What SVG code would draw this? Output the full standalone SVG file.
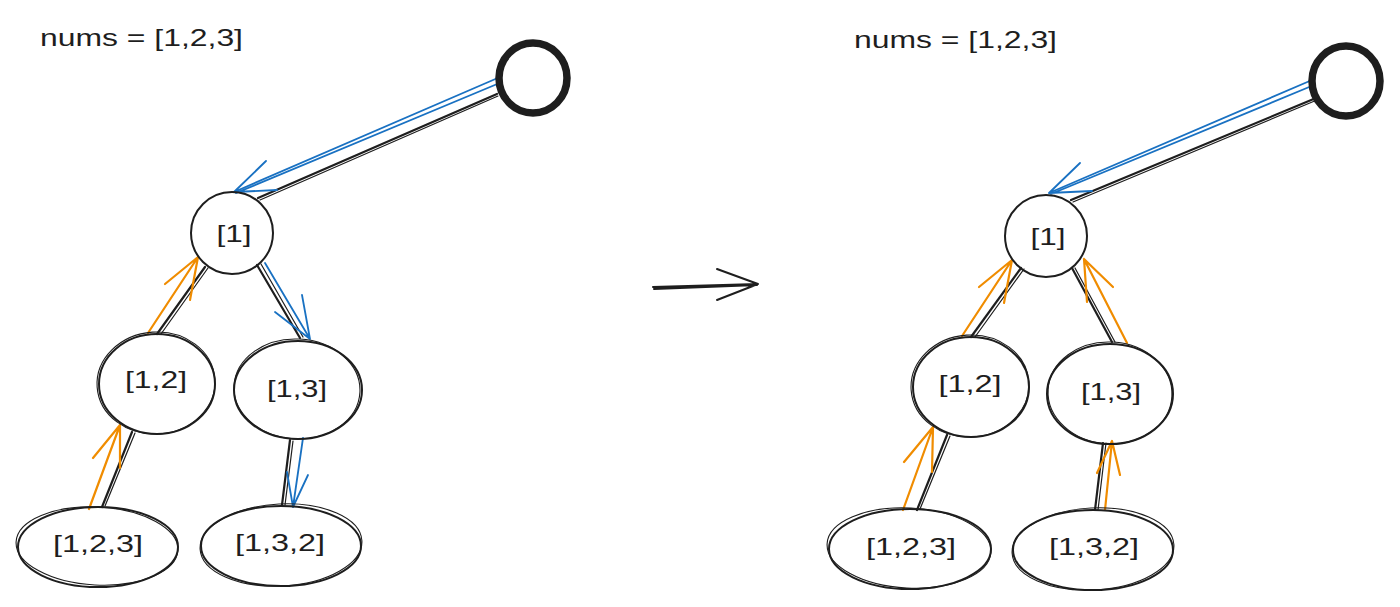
<svg xmlns="http://www.w3.org/2000/svg" width="1400" height="607" viewBox="0 0 1400 607">
<style>
.bg{fill:#ffffff}
.n{fill:none;stroke:#1e1e1e;stroke-width:2}
.n2{fill:none;stroke:#1e1e1e;stroke-width:1.1}
.root{fill:none;stroke:#1e1e1e;stroke-width:7.5}
.lbl{font-family:"Liberation Sans",Arial,sans-serif;font-size:24px;fill:#1e1e1e;text-anchor:middle}
.title{font-family:"Liberation Sans",Arial,sans-serif;font-size:24px;fill:#1e1e1e}
.e{fill:none;stroke:#1e1e1e;stroke-width:2.2;stroke-linecap:round}
.e2{fill:none;stroke:#1e1e1e;stroke-width:1.2;stroke-linecap:round}
.b{fill:none;stroke:#1971c2;stroke-width:1.8;stroke-linecap:round;stroke-linejoin:round}
.o{fill:none;stroke:#f08c00;stroke-width:2.2;stroke-linecap:round;stroke-linejoin:round}
.k{fill:none;stroke:#1e1e1e;stroke-width:2;stroke-linecap:round;stroke-linejoin:round}
</style>
<rect class="bg" x="0" y="0" width="1400" height="607"/>

<text class="title" x="40" y="46" textLength="203" lengthAdjust="spacingAndGlyphs">nums = [1,2,3]</text>
<text class="title" x="854" y="48" textLength="203" lengthAdjust="spacingAndGlyphs">nums = [1,2,3]</text>

<g id="connectors">
  <path class="e" d="M497,94 L258,198"/>
  <path class="e2" d="M498,96 L260,200"/>
  <path class="e" d="M257,265 L300,338"/>
  <path class="e2" d="M261,264 L303,337"/>
  <path class="e" d="M157,334 L205,267"/>
  <path class="e2" d="M161,334 L208,268"/>
  <path class="e" d="M102,507 L132,432"/>
  <path class="e2" d="M105,506 L135,433"/>
  <path class="e" d="M290,440 L282,505"/>
  <path class="e2" d="M293,441 L285,505"/>

  <path class="b" d="M500,77 L234,192 M502,82 L236,193 M266,161 L234,192 L277,190"/>
  <path class="b" d="M265,263 L310,339 M275,312 L310,339 L302,295"/>
  <path class="o" d="M148,333 L198,257 M165,284 L198,257 L190,300"/>
  <path class="o" d="M89,509 L120,425 M93,458 L120,425 L120,468"/>
  <path class="b" d="M303,438 L293,507 M287,472 L293,507 L308,475"/>

  <path class="e" d="M1316,98 L1071,200"/>
  <path class="e2" d="M1317,100 L1073,202"/>
  <path class="e" d="M971,337 L1021,268"/>
  <path class="e2" d="M975,337 L1024,269"/>
  <path class="e" d="M1072,268 L1112,342"/>
  <path class="e2" d="M1075,268 L1115,342"/>
  <path class="e" d="M917,510 L947,435"/>
  <path class="e2" d="M920,509 L950,436"/>
  <path class="e" d="M1095,510 L1103,443"/>
  <path class="e2" d="M1098,510 L1106,443"/>

  <path class="b" d="M1312,80 L1049,193 M1314,85 L1051,194 M1080,163 L1049,193 L1092,191"/>
  <path class="o" d="M962,336 L1012,260 M979,287 L1012,260 L1004,303"/>
  <path class="o" d="M1127,343 L1084,259 M1113,287 L1084,259 L1087,302"/>
  <path class="o" d="M903,510 L933,427 M904,462 L933,427 L932,472"/>
  <path class="o" d="M1105,510 L1112,441 M1097,473 L1112,441 L1120,475"/>

  <path class="k" d="M653,287 L758,284 M654,289 L757,285 M717,269 L758,284 L717,300"/>
</g>

<g id="L-root"><ellipse class="root" cx="533" cy="78" rx="34" ry="35"/></g>
<g id="L-1">
  <ellipse class="n" cx="232" cy="233" rx="41" ry="41"/>
  <text class="lbl" x="234" y="242" textLength="35" lengthAdjust="spacingAndGlyphs">[1]</text>
</g>
<g id="L-12">
  <ellipse class="n" cx="157" cy="384" rx="58" ry="50"/>
  <ellipse class="n2" cx="156" cy="383" rx="59" ry="51" transform="rotate(-4 156 383)"/>
  <text class="lbl" x="156" y="388" textLength="62" lengthAdjust="spacingAndGlyphs">[1,2]</text>
</g>
<g id="L-13">
  <ellipse class="n" cx="298" cy="390" rx="64" ry="49"/>
  <ellipse class="n2" cx="297" cy="389" rx="63" ry="50" transform="rotate(3 297 389)"/>
  <text class="lbl" x="297" y="397" textLength="60" lengthAdjust="spacingAndGlyphs">[1,3]</text>
</g>
<g id="L-123">
  <ellipse class="n" cx="98" cy="547" rx="80" ry="40"/>
  <ellipse class="n2" cx="97" cy="546" rx="81" ry="39" transform="rotate(3 97 546)"/>
  <text class="lbl" x="98" y="552" textLength="90" lengthAdjust="spacingAndGlyphs">[1,2,3]</text>
</g>
<g id="L-132">
  <ellipse class="n" cx="281" cy="546" rx="80" ry="40"/>
  <ellipse class="n2" cx="281" cy="545" rx="81" ry="41" transform="rotate(-3 281 545)"/>
  <text class="lbl" x="280" y="551" textLength="90" lengthAdjust="spacingAndGlyphs">[1,3,2]</text>
</g>

<g id="R-root"><ellipse class="root" cx="1346" cy="81" rx="34" ry="35"/></g>
<g id="R-1">
  <ellipse class="n" cx="1046" cy="236" rx="41" ry="41"/>
  <text class="lbl" x="1048" y="245" textLength="35" lengthAdjust="spacingAndGlyphs">[1]</text>
</g>
<g id="R-12">
  <ellipse class="n" cx="971" cy="387" rx="58" ry="50"/>
  <ellipse class="n2" cx="970" cy="386" rx="59" ry="51" transform="rotate(-4 970 386)"/>
  <text class="lbl" x="970" y="392" textLength="63" lengthAdjust="spacingAndGlyphs">[1,2]</text>
</g>
<g id="R-13">
  <ellipse class="n" cx="1110" cy="394" rx="63" ry="50"/>
  <ellipse class="n2" cx="1110" cy="393" rx="62" ry="51" transform="rotate(3 1110 393)"/>
  <text class="lbl" x="1111" y="400" textLength="60" lengthAdjust="spacingAndGlyphs">[1,3]</text>
</g>
<g id="R-123">
  <ellipse class="n" cx="910" cy="549" rx="81" ry="40"/>
  <ellipse class="n2" cx="909" cy="548" rx="82" ry="40" transform="rotate(3 909 548)"/>
  <text class="lbl" x="911" y="555" textLength="90" lengthAdjust="spacingAndGlyphs">[1,2,3]</text>
</g>
<g id="R-132">
  <ellipse class="n" cx="1093" cy="550" rx="80" ry="40"/>
  <ellipse class="n2" cx="1093" cy="549" rx="81" ry="41" transform="rotate(-3 1093 549)"/>
  <text class="lbl" x="1094" y="555" textLength="90" lengthAdjust="spacingAndGlyphs">[1,3,2]</text>
</g>
</svg>
